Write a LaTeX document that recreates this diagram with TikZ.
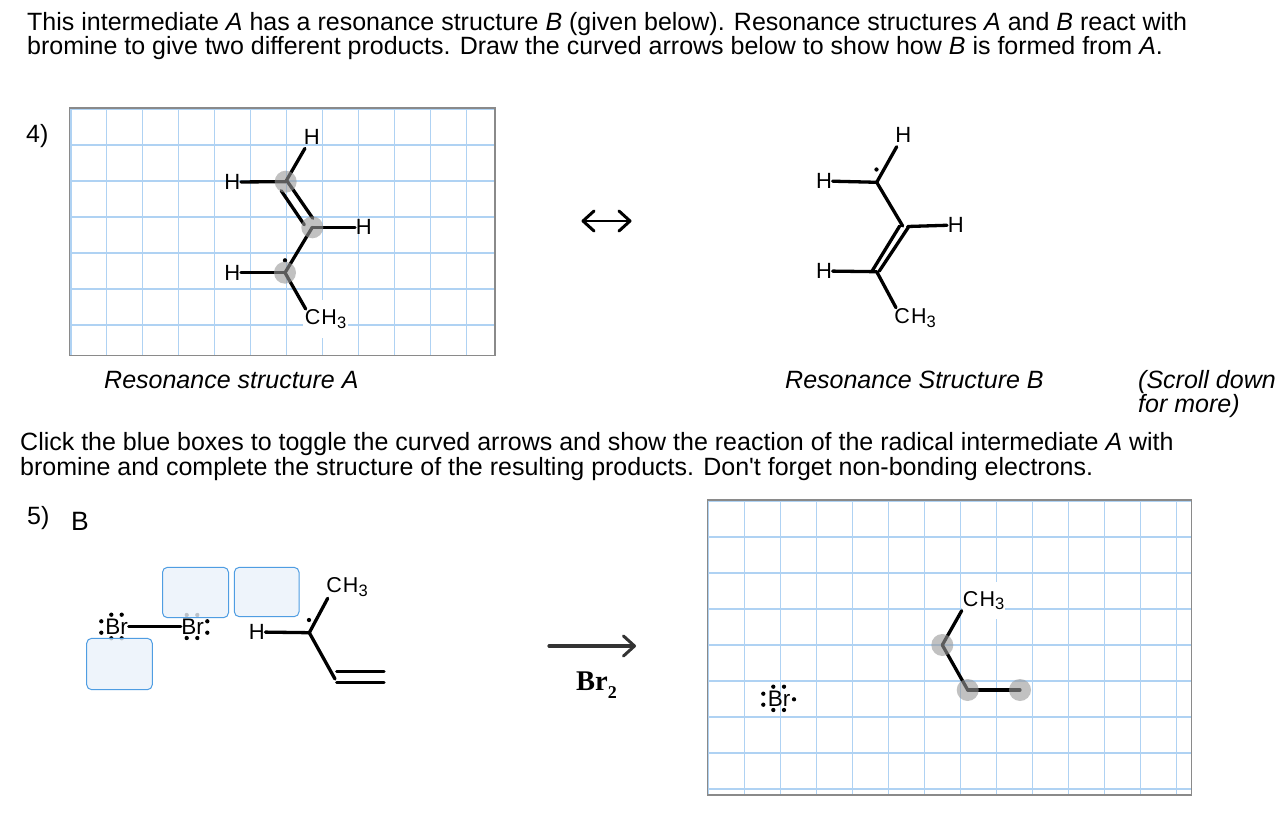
\documentclass[tikz,border=0pt]{standalone}
\usepackage{fontspec}
\setmainfont{Liberation Sans}
\newfontfamily\serifbf{Liberation Serif}
\newfontfamily\plainsans{Liberation Sans}
\usetikzlibrary{arrows.meta,calc}
\definecolor{gridblue}{HTML}{AFD2F3}
\definecolor{framegray}{HTML}{8A8A8A}
\definecolor{boxfill}{HTML}{EAF2FB}
\definecolor{boxedge}{HTML}{4F9DE2}
\definecolor{arrowdark}{HTML}{333333}
\newcommand{\chthree}{C\kern1.2pt H\raisebox{-3.5pt}{\fontsize{16.5}{17}\selectfont 3}}
\tikzset{
  txt/.style={anchor=base west,inner sep=0pt,font=\fontsize{25}{26}\selectfont},
  ital/.style={txt,font=\fontsize{25}{26}\selectfont\itshape},
  atom/.style={inner sep=0.5pt,font=\fontsize{22}{23}\selectfont},
  bratom/.style={inner sep=0.5pt,font=\fontsize{22.5}{23}\selectfont},
  chlab/.style={inner sep=0pt,font=\fontsize{21.5}{22}\selectfont},
  ch3/.style={chlab,fill=white},
  bond/.style={line width=3.3pt,line cap=round,black},
  site/.style={circle,fill=black!40,fill opacity=.6,minimum size=22pt,inner sep=0pt},
  gridline/.style={draw=gridblue,line width=1.4pt},
  frameline/.style={draw=framegray,line width=1.7pt},
  toggle/.style={draw=boxedge,fill=boxfill,fill opacity=.8,line width=1pt,rounded corners=5pt},
  lp/.style={circle,fill=black,minimum size=4.3pt,inner sep=0pt},
  rad/.style={circle,fill=black,minimum size=4.3pt,inner sep=0pt},
}
\begin{document}
\begin{tikzpicture}[x=1pt,y=-1pt,
  >={Straight Barb[length=11pt,width=20pt,line width=3pt,round]}]
\useasboundingbox[fill=white] (0,0) rectangle (1282,834);

% text
\node[txt] (t1) at (27,31) {This intermediate \textit{A} has a resonance structure \textit{B} (given below). Resonance structures \textit{A} and \textit{B} react with};
\node[txt] (t2) at (27,55) {bromine to give two different products. Draw the curved arrows below to show how \textit{B} is formed from \textit{A}.};
\node[txt] (n4) at (26,143) {4)};
\node[ital] (capA) at (104,388.5) {Resonance structure A};
\node[ital] (capB) at (785,388.5) {Resonance Structure B};
\node[ital] (sc1) at (1138,388.5) {(Scroll down};
\node[ital] (sc2) at (1138,412) {for more)};
\node[txt] (t3) at (20,450) {Click the blue boxes to toggle the curved arrows and show the reaction of the radical intermediate \textit{A} with};
\node[txt] (t4) at (20,475) {bromine and complete the structure of the resulting products. Don{\plainsans '}t forget non-bonding electrons.};
\node[txt] (n5) at (27,524) {5)};
\node[txt,font=\fontsize{26.5}{27}\selectfont] (lb) at (71,530.5) {B};

% grid 1
\foreach \x in {106.3,142.3,178.3,214.3,250.3,286.3,322.3,358.3,394.3,430.3,466.3}
  \draw[gridline] (\x,108) -- (\x,356);
\foreach \y in {145,181,217,253,289,325}
  \draw[gridline] (70,\y) -- (495,\y);
\draw[gridline] (71,109) -- (495,109);
\draw[gridline] (71,109) -- (71,355);
\draw[frameline] (69.5,355.5) -- (69.5,107.7) -- (495,107.7) -- (495,355.5) -- cycle;

% grid 2
\foreach \x in {744.3,780.3,816.3,852.3,888.3,924.3,960.3,996.3,1032.3,1068.3,1104.3,1140.3,1176.3}
  \draw[gridline] (\x,500) -- (\x,795);
\foreach \y in {537,573,609,645,681,717,753,789}
  \draw[gridline] (708,\y) -- (1191,\y);
\draw[gridline] (708,501) -- (1191,501);
\draw[gridline] (708,501) -- (708,794);
\draw[frameline] (707.5,794.7) -- (707.5,500) -- (1191.5,500) -- (1191.5,794.7) -- cycle;

% molecule A
\coordinate (a1) at (285.7,181.7);
\coordinate (a2) at (312.3,227.3);
\coordinate (a3) at (285,272.7);
\coordinate (aEnd) at (305.7,309);
\node[atom] (aH1) at (311.7,136.7) {H};
\node[atom] (aH2) at (232.3,182) {H};
\node[atom] (aH3) at (363.7,227.3) {H};
\node[atom] (aH4) at (232.3,272.7) {H};
\node[ch3,minimum width=45pt,minimum height=38pt] (aCH) at (325.5,319) {\chthree};
\draw[bond,shorten >=4pt] (a1) -- (aH1);
\draw[bond] (aH2) -- (a1);
\draw[bond] (a2) -- (aH3);
\draw[bond] (aH4) -- (a3);
\draw[bond] (a3) -- (a2);
\draw[bond] (a3) -- (aEnd);
\draw[bond] ([shift={(1.5,-.5)}]a1) -- ([shift={(0.5,-9)}]a2);
\draw[bond] ([shift={(-4.5,9)}]a1) -- ([shift={(-8,-2.5)}]a2);
\node[rad] (aR) at (285,260.3) {};
\node[site] (as1) at (a1) {};
\node[site] (as2) at (a2) {};
\node[site] (as3) at (a3) {};

% resonance arrow
\coordinate (dl) at (581.5,221);
\coordinate (dr) at (631.5,221);
\draw[line width=1.8pt,black,<->] (dl) -- (dr);

% molecule B
\coordinate (b1) at (876.7,182.3);
\coordinate (b2) at (902.7,226);
\coordinate (b3) at (876.7,271.7);
\coordinate (bEnd) at (896,307.7);
\node[atom] (bH1) at (903.3,135) {H};
\node[atom] (bH2) at (824,181) {H};
\node[atom] (bH3) at (955.7,225) {H};
\node[atom] (bH4) at (824,271) {H};
\node[chlab] (bCH) at (915,318) {\chthree};
\draw[bond,shorten >=4pt] (b1) -- (bH1);
\draw[bond] (bH2) -- (b1);
\draw[bond] (b1) -- (b2);
\draw[bond] ([shift={(5,.5)}]b2) -- (bH3);
\draw[bond] (bH4) -- (b3);
\draw[bond] (b3) -- (bEnd);
\draw[bond] ([shift={(-3,0)}]b2) -- ([shift={(-4.7,-.5)}]b3);
\draw[bond] ([shift={(5.5,1.5)}]b2) -- ([shift={(2.5,-.5)}]b3);
\node[rad] (bR) at (876.5,169.5) {};

% Br-Br
\node[bratom] (br1) at (116.7,626.7) {Br};
\node[bratom] (br2) at (192.7,626.7) {Br};
\draw[bond] (br1) -- (br2);
\foreach \x/\y in {111.3/614.7,121.7/614.7,101.3/621.3,101.3/632.7,111.3/638.3,121.7/638.3,
  186.7/615,197.3/615,207.3/621.3,207.3/632.7,186.7/638,197.3/638}
  \node[lp] at (\x,\y) {};
\node[toggle,minimum width=66pt,minimum height=50.4pt,inner sep=0pt] (box1) at (195.5,592.5) {};
\node[toggle,minimum width=64.7pt,minimum height=49.4pt,inner sep=0pt] (box2) at (266.7,592) {};
\node[toggle,minimum width=65.6pt,minimum height=51.4pt,inner sep=0pt] (box3) at (119.5,664) {};

% molecule in 5
\coordinate (c1) at (309.3,632.7);
\coordinate (c2) at (335,679);
\coordinate (cEnd) at (327.7,598.3);
\node[atom] (cH) at (256.7,632) {H};
\node[chlab] (cCH) at (347,587) {\chthree};
\draw[bond] (cH) -- (c1);
\draw[bond] (c1) -- (cEnd);
\draw[bond] (c1) -- (c2);
\coordinate (c3a) at (336.7,671.7);
\coordinate (c3b) at (384,671.7);
\coordinate (c4a) at (336.7,682.7);
\coordinate (c4b) at (384,682.7);
\draw[bond] (c3a) -- (c3b);
\draw[bond] (c4a) -- (c4b);
\node[rad] (cR) at (309,620) {};

% reaction arrow
\coordinate (ral) at (549,646);
\coordinate (rar) at (636,646);
\draw[line width=3.2pt,arrowdark,line cap=round,->] (ral) -- (rar);
\node[anchor=base west,inner sep=0pt,font=\fontsize{28.5}{29}\selectfont\serifbf\bfseries] (br2lab) at (576,690.5) {Br\raisebox{-7.5pt}{\fontsize{18}{18}\selectfont 2}};

% product
\coordinate (p1) at (942.3,645);
\coordinate (p2) at (967.7,690);
\coordinate (p3) at (1020,690);
\coordinate (pEnd) at (961.7,610.7);
\node[ch3,minimum width=43pt,minimum height=37pt] (pCH) at (983.5,600.5) {\chthree};
\draw[bond] (p1) -- (pEnd);
\draw[bond] (p1) -- (p2);
\draw[bond] (p2) -- (p3);
\node[site] (ps1) at (p1) {};
\node[site] (ps2) at (p2) {};
\node[site] (ps3) at (p3) {};
\node[bratom] (br3) at (779,699) {Br};
\foreach \x/\y in {773.3/686.7,784/686.7,763.3/693.7,763.3/704.7,773.3/710,784/710,794/699.3}
  \node[lp] at (\x,\y) {};
\end{tikzpicture}
\end{document}
